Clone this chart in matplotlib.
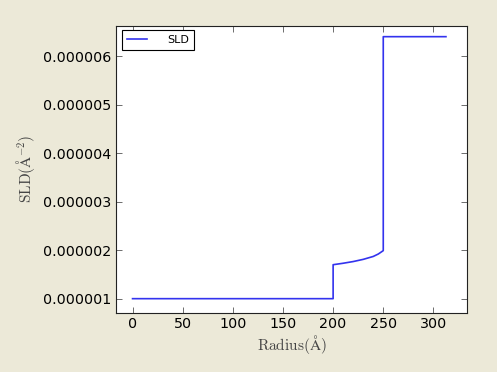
import matplotlib
matplotlib.use('Agg')
import matplotlib.pyplot as plt

# SLD profile
radius = [0, 200, 200, 210, 220, 230, 240, 245, 250, 250, 312.5]
sld = [1.0e-6, 1.0e-6, 1.70e-6, 1.73e-6, 1.765e-6, 1.81e-6, 1.87e-6, 1.92e-6, 1.99e-6, 6.4e-6, 6.4e-6]

plt.rcParams['mathtext.fontset'] = 'cm'
plt.rcParams['xtick.direction'] = 'in'
plt.rcParams['ytick.direction'] = 'in'
plt.rcParams['xtick.top'] = True
plt.rcParams['ytick.right'] = True

fig = plt.figure(figsize=(4.97, 3.72), dpi=100, facecolor='#ECE9D8')
ax = fig.add_axes([116/497, 1-312.5/372, 351/497, 286.5/372])
ax.plot(radius, sld, color='#3333ee', lw=1.2, label='SLD')

ax.set_xlim(-16.5, 333.5)
ax.set_ylim(0.715e-6, 6.62e-6)
ax.set_xticks([0, 50, 100, 150, 200, 250, 300])
ax.set_yticks([1e-6, 2e-6, 3e-6, 4e-6, 5e-6, 6e-6])
ax.set_yticklabels(['0.000001', '0.000002', '0.000003', '0.000004', '0.000005', '0.000006'])
ax.tick_params(labelsize=10.3, length=4, width=0.6, color='#555555')
for s in ax.spines.values():
    s.set_color('#222222')

ax.set_xlabel(r'$\rm{Radius}(\AA)$', fontsize=11, color='#444444', labelpad=1)
ax.set_ylabel(r'$\rm{SLD}(\AA^{-2})$', fontsize=11, color='#444444')

leg = ax.legend(loc='upper left', bbox_to_anchor=(0.018, 0.985), borderaxespad=0,
                fontsize=8, fancybox=False, framealpha=1, edgecolor='black',
                handlelength=1.8, handletextpad=1.75, borderpad=0.45)
leg.get_frame().set_linewidth(0.8)

fig.savefig('out.png', dpi=100, facecolor=fig.get_facecolor())
